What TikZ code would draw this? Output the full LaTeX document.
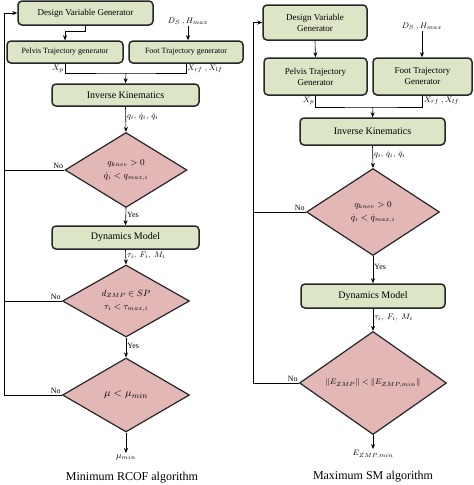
\documentclass[tikz,border=0pt]{standalone}
\usepackage{fontspec}
\setmainfont{Liberation Serif}
\usetikzlibrary{shapes.geometric,arrows.meta}
\definecolor{boxgreen}{HTML}{DCE5C6}
\definecolor{decpink}{HTML}{E4B7B7}
\begin{document}
\begin{tikzpicture}[x=1pt,y=-1pt,line width=0.6pt,>={Stealth[length=5pt,width=4pt]},
  blk/.style={draw=black!85,line width=1.5pt,rounded corners=4pt,fill=boxgreen,align=center,inner sep=1pt,font=\fontsize{9}{11}\selectfont},
  dec/.style={draw=black!85,line width=1.2pt,diamond,fill=decpink,align=center,inner sep=0pt,font=\fontsize{9}{13}\selectfont},
  lbl/.style={font=\fontsize{8}{9}\selectfont,inner sep=1pt},
  captext/.style={font=\fontsize{12}{14}\selectfont}]
  \useasboundingbox (0,0) rectangle (474,485);
  % left: minimum RCOF
  \node [blk,minimum width=135pt,minimum height=24pt] (dvgL) at (85.5,13) {Design Variable Generator};
  \node [blk,minimum width=116pt,minimum height=22pt,font=\fontsize{8}{10}\selectfont] (pelL) at (65,52) {Pelvis Trajectory generator};
  \node [blk,minimum width=114pt,minimum height=22pt,font=\fontsize{8}{10}\selectfont] (footL) at (186,52) {Foot Trajectory generator};
  \node [blk,minimum width=147pt,minimum height=22pt,font=\fontsize{10}{12}\selectfont] (ikL) at (125.5,95) {Inverse Kinematics};
  \node [dec,minimum width=122pt,minimum height=75pt] (d1L) at (126,170) {$q_{knee}>0$\\$\dot q_i<q_{max,i}$};
  \node [blk,minimum width=147pt,minimum height=23pt,font=\fontsize{10}{12}\selectfont] (dmL) at (125.5,237.5) {Dynamics Model};
  \node [dec,minimum width=127pt,minimum height=72pt] (d2L) at (126,301) {$d_{ZMP}\in SP$\\$\tau_i<\tau_{max,i}$};
  \node [dec,minimum width=127pt,minimum height=74pt,font=\fontsize{11}{13}\selectfont] (d3L) at (126,395) {$\mu<\mu_{min}$};
  \node [lbl,anchor=south] (dsL) at (188,26) {$D_S\ ,H_{max}$};
  \coordinate (jL) at (126,73);
  \coordinate (outL) at (126,453);
  \coordinate (loopL) at (4,0);
  \draw [->] (dsL.south) -- (dsL.south |- footL.north);
  \draw [->] (dvgL.south) -- ++(0,6) -| (pelL.north);
  \draw (pelL.south) |- (jL) -| (footL.south);
  \draw [->] (jL) -- (ikL.north);
  \draw [->] (ikL.south) -- (d1L.north) node [lbl,pos=0.4,anchor=west] {$q_i,\,\dot q_i,\,\ddot q_i$};
  \draw [->] (d1L.south) -- (dmL.north) node [lbl,pos=0.4,anchor=west] {Yes};
  \draw [->] (dmL.south) -- (d2L.north) node [lbl,pos=0.4,anchor=west] {$\tau_i,\ F_i,\ M_i$};
  \draw [->] (d2L.south) -- (d3L.north) node [lbl,pos=0.4,anchor=west] {Yes};
  \draw [->] (d3L.south) -- (outL) node [lbl,anchor=north,font=\fontsize{9}{10}\selectfont] {$\mu_{min}$};
  \draw [->] (d3L.west) -- (d3L.west -| loopL) |- (dvgL.west);
  \draw (d1L.west) -- (d1L.west -| loopL);
  \draw (d2L.west) -- (d2L.west -| loopL);
  \node [lbl,anchor=south east] at (d1L.west) {No};
  \node [lbl,anchor=south east] at (d2L.west) {No};
  \node [lbl,anchor=south east] at (d3L.west) {No};
  \node [lbl,anchor=north east] at (pelL.south) {$X_p$};
  \node [lbl,anchor=north west] at (footL.south) {$X_{rf}\ ,X_{lf}$};
  \node [captext] at (132,478) {Minimum RCOF algorithm};
  % right: maximum SM
  \node [blk,minimum width=104pt,minimum height=35pt] (dvgR) at (315,22.5) {Design Variable\\Generator};
  \node [blk,minimum width=103pt,minimum height=37pt] (pelR) at (315.5,76.5) {Pelvis Trajectory\\Generator};
  \node [blk,minimum width=99pt,minimum height=37pt] (footR) at (422.5,76.5) {Foot Trajectory\\Generator};
  \node [blk,minimum width=145pt,minimum height=27pt,font=\fontsize{10}{12}\selectfont] (ikR) at (372.5,131.5) {Inverse Kinematics};
  \node [dec,minimum width=133pt,minimum height=87pt] (d1R) at (373,212) {$q_{knee}>0$\\$\dot q_i<\dot q_{max,i}$};
  \node [blk,minimum width=144pt,minimum height=24pt,font=\fontsize{10}{12}\selectfont] (dmR) at (373,296) {Dynamics Model};
  \node [dec,minimum width=147pt,minimum height=93pt,font=\fontsize{8.5}{10}\selectfont] (d2R) at (373,383) {$\|E_{ZMP}\|<\|E_{ZMP,min}\|$};
  \node [lbl,anchor=south] (dsR) at (422,31) {$D_S\ ,H_{max}$};
  \coordinate (jR) at (373,107);
  \coordinate (outR) at (373,449);
  \coordinate (loopR) at (253,0);
  \draw [->] (dsR.south) -- (dsR.south |- footR.north);
  \draw [->] (dvgR.south) -- (pelR.north);
  \draw (pelR.south) |- (jR) -| (footR.south);
  \draw [->] (jR) -- (ikR.north);
  \draw [->] (ikR.south) -- (d1R.north) node [lbl,pos=0.4,anchor=west] {$q_i,\,\dot q_i,\,\ddot q_i$};
  \draw [->] (d1R.south) -- (dmR.north) node [lbl,pos=0.4,anchor=west] {Yes};
  \draw [->] (dmR.south) -- (d2R.north) node [lbl,pos=0.4,anchor=west] {$\tau_i,\ F_i,\ M_i$};
  \draw [->] (d2R.south) -- (outR) node [lbl,anchor=north,font=\fontsize{8.5}{10}\selectfont] {$E_{ZMP,min}$};
  \draw [->] (d2R.west) -- (d2R.west -| loopR) |- (dvgR.west);
  \draw (d1R.west) -- (d1R.west -| loopR);
  \node [lbl,anchor=south east] at (d1R.west) {No};
  \node [lbl,anchor=south east] at (d2R.west) {No};
  \node [lbl,anchor=north east] at (pelR.south) {$X_p$};
  \node [lbl,anchor=north west] at (footR.south) {$X_{rf}\ ,X_{lf}$};
  \node [captext] at (373,477) {Maximum SM algorithm};
\end{tikzpicture}
\end{document}
